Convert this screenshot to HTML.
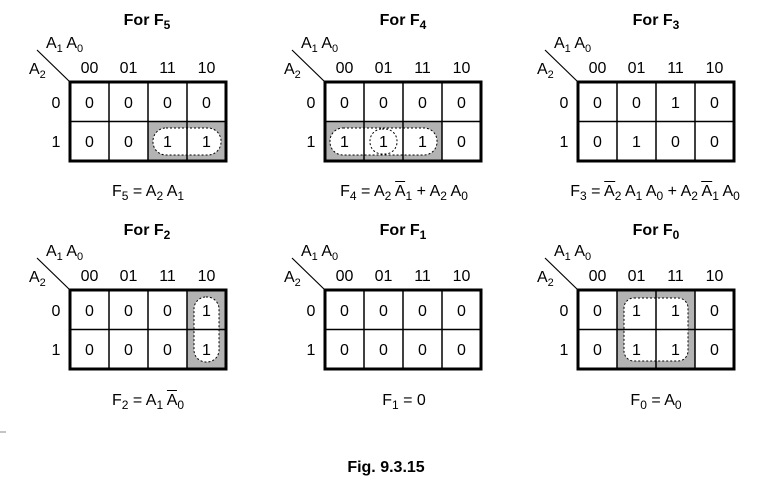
<!DOCTYPE html>
<html><head><meta charset="utf-8"><style>
body{margin:0;background:#fff;width:775px;height:485px;overflow:hidden;position:relative;font-family:"Liberation Sans",Arial,sans-serif}
svg{position:absolute;left:0;top:0}
.eq{position:absolute;font-size:16px;white-space:nowrap;transform:translateX(-50%);line-height:1}
.eq sub{font-size:12px;vertical-align:-4px;line-height:0}
.ov{border-top:1.5px solid #000;padding-top:1px}
</style></head><body>
<svg width="775" height="485" font-family="Liberation Sans, Arial, sans-serif">
<defs>
<g id="hdr" font-size="16">
<text x="-24" y="-34">A<tspan font-size="11" dy="4">1</tspan><tspan dy="-4"> A</tspan><tspan font-size="11" dy="4">0</tspan></text>
<text x="-41" y="-8">A<tspan font-size="11" dy="4">2</tspan></text>
<line x1="-33" y1="-32" x2="0" y2="0" stroke="#000" stroke-width="1.2"/>
<text x="19.5" y="-9" text-anchor="middle">00</text>
<text x="58.5" y="-9" text-anchor="middle">01</text>
<text x="97.5" y="-9" text-anchor="middle">11</text>
<text x="136.5" y="-9" text-anchor="middle">10</text>
<text x="-14" y="26" text-anchor="middle">0</text>
<text x="-14" y="65" text-anchor="middle">1</text>
</g>
<g id="grid" fill="none" stroke="#000">
<rect x="0" y="0" width="156" height="79" stroke-width="3"/>
<line x1="39" y1="0" x2="39" y2="79" stroke-width="1.5"/>
<line x1="78" y1="0" x2="78" y2="79" stroke-width="1.5"/>
<line x1="117" y1="0" x2="117" y2="79" stroke-width="1.5"/>
<line x1="0" y1="39.5" x2="156" y2="39.5" stroke-width="1.5"/>
</g>
</defs>
<g font-size="16" font-weight="bold" text-anchor="middle">
<text x="147" y="25">For F<tspan font-size="12" dy="4">5</tspan></text>
<text x="403" y="25">For F<tspan font-size="12" dy="4">4</tspan></text>
<text x="656" y="25">For F<tspan font-size="12" dy="4">3</tspan></text>
<text x="147" y="235">For F<tspan font-size="12" dy="4">2</tspan></text>
<text x="403" y="235">For F<tspan font-size="12" dy="4">1</tspan></text>
<text x="656" y="235">For F<tspan font-size="12" dy="4">0</tspan></text>
<text x="386" y="472">Fig.  9.3.15</text>
</g>
<line x1="0" y1="432" x2="6" y2="432" stroke="#888"/>

<!-- F5 -->
<g transform="translate(70,82)">
<rect x="78" y="39.5" width="78" height="39.5" fill="#b3b3b3"/>
<rect x="83" y="46" width="68" height="27" rx="13" fill="#fff"/>
<use href="#hdr"/>
<g font-size="16" text-anchor="middle">
<text x="19.5" y="26">0</text><text x="58.5" y="26">0</text><text x="97.5" y="26">0</text><text x="136.5" y="26">0</text>
<text x="19.5" y="65">0</text><text x="58.5" y="65">0</text><text x="97.5" y="65">1</text><text x="136.5" y="65">1</text>
</g>
<use href="#grid"/>
<rect x="83" y="46" width="68" height="27" rx="13" fill="none" stroke="#000" stroke-dasharray="2,2"/>
</g>

<!-- F4 -->
<g transform="translate(325,82)">
<rect x="0" y="39.5" width="117" height="39.5" fill="#b3b3b3"/>
<rect x="5" y="46" width="107" height="27" rx="13" fill="#fff"/>
<use href="#hdr"/>
<g font-size="16" text-anchor="middle">
<text x="19.5" y="26">0</text><text x="58.5" y="26">0</text><text x="97.5" y="26">0</text><text x="136.5" y="26">0</text>
<text x="19.5" y="65">1</text><text x="58.5" y="65">1</text><text x="97.5" y="65">1</text><text x="136.5" y="65">0</text>
</g>
<use href="#grid"/>
<rect x="5" y="46" width="107" height="27" rx="13" fill="none" stroke="#000" stroke-dasharray="2,2"/>
<rect x="45" y="47" width="27" height="25" rx="12" fill="none" stroke="#000" stroke-dasharray="2,2"/>
</g>

<!-- F3 -->
<g transform="translate(578,82)">
<use href="#hdr"/>
<g font-size="16" text-anchor="middle">
<text x="19.5" y="26">0</text><text x="58.5" y="26">0</text><text x="97.5" y="26">1</text><text x="136.5" y="26">0</text>
<text x="19.5" y="65">0</text><text x="58.5" y="65">1</text><text x="97.5" y="65">0</text><text x="136.5" y="65">0</text>
</g>
<use href="#grid"/>
</g>

<!-- F2 -->
<g transform="translate(70,290)">
<rect x="117" y="0" width="39" height="79" fill="#b3b3b3"/>
<rect x="124" y="7" width="25" height="65" rx="12" fill="#fff"/>
<use href="#hdr"/>
<g font-size="16" text-anchor="middle">
<text x="19.5" y="26">0</text><text x="58.5" y="26">0</text><text x="97.5" y="26">0</text><text x="136.5" y="26">1</text>
<text x="19.5" y="65">0</text><text x="58.5" y="65">0</text><text x="97.5" y="65">0</text><text x="136.5" y="65">1</text>
</g>
<use href="#grid"/>
<rect x="124" y="7" width="25" height="65" rx="12" fill="none" stroke="#000" stroke-dasharray="2,2"/>
</g>

<!-- F1 -->
<g transform="translate(325,290)">
<use href="#hdr"/>
<g font-size="16" text-anchor="middle">
<text x="19.5" y="26">0</text><text x="58.5" y="26">0</text><text x="97.5" y="26">0</text><text x="136.5" y="26">0</text>
<text x="19.5" y="65">0</text><text x="58.5" y="65">0</text><text x="97.5" y="65">0</text><text x="136.5" y="65">0</text>
</g>
<use href="#grid"/>
</g>

<!-- F0 -->
<g transform="translate(578,290)">
<rect x="39" y="0" width="78" height="79" fill="#b3b3b3"/>
<rect x="46" y="8" width="64" height="63" rx="10" fill="#fff"/>
<use href="#hdr"/>
<g font-size="16" text-anchor="middle">
<text x="19.5" y="26">0</text><text x="58.5" y="26">1</text><text x="97.5" y="26">1</text><text x="136.5" y="26">0</text>
<text x="19.5" y="65">0</text><text x="58.5" y="65">1</text><text x="97.5" y="65">1</text><text x="136.5" y="65">0</text>
</g>
<use href="#grid"/>
<rect x="46" y="8" width="64" height="63" rx="10" fill="none" stroke="#000" stroke-dasharray="2,2"/>
</g>
</svg>

<div class="eq" style="left:148px;top:184px">F<sub>5</sub> = A<sub>2</sub> A<sub>1</sub></div>
<div class="eq" style="left:404px;top:184px">F<sub>4</sub> = A<sub>2</sub> <span class="ov">A</span><sub>1</sub> + A<sub>2</sub> A<sub>0</sub></div>
<div class="eq" style="left:655px;top:184px">F<sub>3</sub> = <span class="ov">A</span><sub>2</sub> A<sub>1</sub> A<sub>0</sub> + A<sub>2</sub> <span class="ov">A</span><sub>1</sub> A<sub>0</sub></div>
<div class="eq" style="left:148px;top:393px">F<sub>2</sub> = A<sub>1</sub> <span class="ov">A</span><sub>0</sub></div>
<div class="eq" style="left:404px;top:393px">F<sub>1</sub> = 0</div>
<div class="eq" style="left:656px;top:393px">F<sub>0</sub> = A<sub>0</sub></div>
</body></html>
